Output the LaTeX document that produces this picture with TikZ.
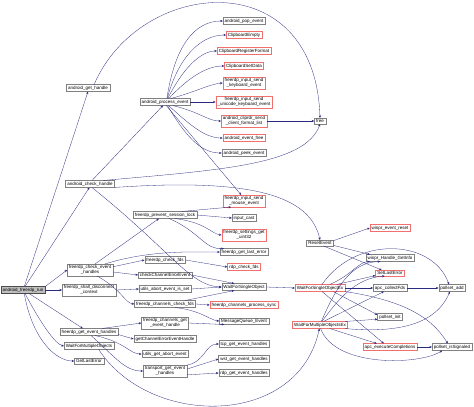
\documentclass[tikz,border=0pt]{standalone}
\usepackage{fontspec}
\setmainfont{Liberation Sans}
\usetikzlibrary{arrows.meta}
\definecolor{edgecol}{HTML}{2A2A80}
\definecolor{ndgray}{HTML}{808080}
\definecolor{ndred}{HTML}{F07070}
\definecolor{rootfill}{HTML}{BFBFBF}
\tikzset{
  nd/.style={draw=ndgray, rectangle, inner xsep=1.8pt, inner ysep=1.3pt, font=\fontsize{4.5}{5}\selectfont, align=center, fill=white, line width=0.3pt},
  rn/.style={nd, draw=ndred},
  rootnd/.style={nd, fill=rootfill, draw=black!70},
  ed/.style={draw=edgecol, line width=0.3pt, -{Stealth[length=2.6pt,width=2.2pt]}}
}
\begin{document}
\begin{tikzpicture}[x=1pt,y=-1pt]
\useasboundingbox (0,0) rectangle (474,407);
\fill[white] (0,0) rectangle (474,407);
% rank 0
\node[rootnd] (root) at (23,290) {android\_freerdp\_run};
% rank 1
\node[nd] (gh) at (88,88) {android\_get\_handle};
\node[nd] (ch) at (90,184) {android\_check\_handle};
\node[nd] (ceh) at (90,270) {freerdp\_check\_event\\\_handles};
\node[nd] (sdc) at (89,290) {freerdp\_shall\_disconnect\\\_context};
\node[nd] (geh) at (89,332) {freerdp\_get\_event\_handles};
\node[nd] (wfmo) at (89,346) {WaitForMultipleObjects};
\node[nd] (gle) at (89,361) {GetLastError};
% rank 2
\node[nd] (pe) at (165,102) {android\_process\_event};
\node[nd] (psl) at (165,215) {freerdp\_prevent\_session\_lock};
\node[nd] (cfds) at (165,260) {freerdp\_check\_fds};
\node[nd] (ccee) at (165,275) {checkChannelErrorEvent};
\node[nd] (uaeis) at (165,289) {utils\_abort\_event\_is\_set};
\node[nd] (chcf) at (165,304) {freerdp\_channels\_check\_fds};
\node[nd] (chge) at (165,323) {freerdp\_channels\_get\\\_event\_handle};
\node[nd] (gceeh) at (165,339) {getChannelErrorEventHandle};
\node[nd] (ugae) at (165,354) {utils\_get\_abort\_event};
\node[nd] (tgeh) at (165,371) {transport\_get\_event\\\_handles};
% rank 3
\node[nd] (pop) at (244,21) {android\_pop\_event};
\node[rn] (cbe) at (244,35) {ClipboardEmpty};
\node[rn] (cbrf) at (244,51) {ClipboardRegisterFormat};
\node[rn] (cbsd) at (244,66) {ClipboardSetData};
\node[rn] (isk) at (244,83) {freerdp\_input\_send\\\_keyboard\_event};
\node[rn] (isu) at (244,102) {freerdp\_input\_send\\\_unicode\_keyboard\_event};
\node[rn] (cfl) at (244,121) {android\_cliprdr\_send\\\_client\_format\_list};
\node[rn] (ef) at (244,138) {android\_event\_free};
\node[nd] (peek) at (244,153) {android\_peek\_event};
\node[rn] (ism) at (244,201) {freerdp\_input\_send\\\_mouse\_event};
\node[nd] (ic) at (244,218) {input\_cast};
\node[rn] (sgu) at (244,235) {freerdp\_settings\_get\\\_uint32};
\node[nd] (gle2) at (244,252) {freerdp\_get\_last\_error};
\node[rn] (rcf) at (244,267) {rdp\_check\_fds};
\node[nd] (wfso) at (244,287) {WaitForSingleObject};
\node[rn] (cps) at (244,305) {freerdp\_channels\_process\_sync};
\node[nd] (mqe) at (244,321) {MessageQueue\_Event};
\node[nd] (tcp) at (244,344) {tcp\_get\_event\_handles};
\node[nd] (wst) at (244,359) {wst\_get\_event\_handles};
\node[nd] (rdp) at (244,373) {rdp\_get\_event\_handles};
% rank 4
\node[nd] (free) at (320,121) {free};
\node[nd] (re) at (320,243) {ResetEvent};
\node[rn] (wfsoex) at (320,288) {WaitForSingleObjectEx};
\node[rn] (wfmoex) at (320,325) {WaitForMultipleObjectsEx};
% rank 5
\node[rn] (wer) at (390,228) {winpr\_event\_reset};
\node[nd] (hgi) at (390,258) {winpr\_Handle\_GetInfo};
\node[rn] (sle) at (390,273) {SetLastError};
\node[nd] (acf) at (390,288) {apc\_collectFds};
\node[nd] (pi) at (390,317) {pollset\_init};
\node[rn] (aec) at (390,347) {apc\_executeCompletions};
% rank 6
\node[nd] (pa) at (452,288) {pollset\_add};
\node[nd] (pis) at (452,347) {pollset\_isSignaled};

% root edges
\draw[ed] (root.70) -- (gh.south);
\draw[ed] (root.60) -- (ch.-100);
\draw[ed] (root.north east) -- (ceh.west);
\draw[ed] (root.east) -- (sdc.west);
\draw[ed] (root.-30) -- (geh.150);
\draw[ed] (root.-60) .. controls (40,322) and (55,344) .. (wfmo.west);
\draw[ed] (root.-70) .. controls (32,338) and (55,361) .. (gle.west);
% android_get_handle
\draw[ed] (gh.30) .. controls (140,-22) and (315,-38) .. (free.north);
% android_check_handle
\draw[ed] (ch.60) -- (pe.-120);
\draw[ed] (ch.15) .. controls (220,170) and (305,165) .. (free.south);
\draw[ed] (ch.-8) .. controls (250,178) and (310,195) .. (re.north);
\draw[ed] (ch.-60) .. controls (170,250) and (190,286) .. (wfso.west);
% freerdp_check_event_handles
\draw[ed] (ceh.50) -- (psl.-150);
\draw[ed] (ceh.22) .. controls (150,250) and (190,252) .. (gle2.west);
\draw[ed] (ceh.8) -- (cfds.west);
\draw[ed] (ceh.-5) -- (ccee.west);
\draw[ed] (ceh.-40) .. controls (122,290) and (125,303) .. (chcf.west);
% shall disconnect
\draw[ed] (sdc.east) -- (uaeis.west);
% get event handles
\draw[ed] (geh.15) -- (chge.west);
\draw[ed] (geh.-5) -- (gceeh.west);
\draw[ed] (geh.-30) .. controls (125,342) and (130,354) .. (ugae.west);
\draw[ed] (geh.-60) .. controls (115,357) and (125,371) .. (tgeh.west);
% WaitForMultipleObjects
\draw[ed] (wfmo.-20) .. controls (150,428) and (298,428) .. (wfmoex.-100);
% android_process_event fanout
\draw[ed] (pe.62) .. controls (175,45) and (195,21) .. (pop.west);
\draw[ed] (pe.58) .. controls (178,58) and (200,35) .. (cbe.west);
\draw[ed] (pe.52) .. controls (182,70) and (200,51) .. (cbrf.west);
\draw[ed] (pe.42) .. controls (186,80) and (205,66) .. (cbsd.west);
\draw[ed] (pe.30) .. controls (195,92) and (210,84) .. (isk.west);
\draw[ed] (pe.east) -- (isu.west);
\draw[ed] (pe.-25) .. controls (200,112) and (208,121) .. (cfl.west);
\draw[ed] (pe.-45) .. controls (190,125) and (205,138) .. (ef.west);
\draw[ed] (pe.-55) .. controls (185,135) and (200,153) .. (peek.west);
\draw[ed] (pe.-70) -- (ism.115);
\draw[ed] (cfl.east) -- (free.west);
% prevent session lock
\draw[ed] (psl.12) -- (ism.205);
\draw[ed] (psl.east) -- (ic.west);
\draw[ed] (psl.-20) .. controls (205,222) and (212,234) .. (sgu.west);
\draw[ed] (psl.-40) .. controls (200,232) and (205,250) .. (gle2.170);
% misc rank 2
\draw[ed] (cfds.east) -- (rcf.west);
\draw[ed] (ccee.east) -- (wfso.160);
\draw[ed] (uaeis.east) -- (wfso.west);
\draw[ed] (chcf.10) -- (wfso.-160);
\draw[ed] (chcf.east) -- (cps.west);
\draw[ed] (chcf.-20) .. controls (200,310) and (210,320) .. (mqe.west);
\draw[ed] (chge.east) -- (mqe.-170);
\draw[ed] (tgeh.15) .. controls (205,362) and (205,344) .. (tcp.west);
\draw[ed] (tgeh.5) -- (wst.west);
\draw[ed] (tgeh.-10) -- (rdp.west);
% rank 3 -> 4
\draw[ed] (wfso.east) -- (wfsoex.west);
% ResetEvent
\draw[ed] (re.10) -- (wer.west);
\draw[ed] (re.-10) -- (hgi.170);
\draw[ed] (re.-40) -- (sle.160);
% WaitForSingleObjectEx
\draw[ed] (wfsoex.20) .. controls (352,275) and (358,262) .. (hgi.-170);
\draw[ed] (wfsoex.12) -- (sle.-170);
\draw[ed] (wfsoex.east) -- (acf.west);
\draw[ed] (wfsoex.-15) -- (pi.170);
\draw[ed] (wfsoex.-60) -- (aec.150);
\draw[ed] (wfsoex.-8) .. controls (400,300) and (430,315) .. (pis.140);
\draw[ed] (wfsoex.60) .. controls (355,236) and (432,238) .. (pa.130);
% WaitForMultipleObjectsEx
\draw[ed] (wfmoex.70) .. controls (335,290) and (350,262) .. (hgi.-160);
\draw[ed] (wfmoex.62) .. controls (338,300) and (355,278) .. (sle.-150);
\draw[ed] (wfmoex.45) -- (acf.-150);
\draw[ed] (wfmoex.8) -- (pi.-170);
\draw[ed] (wfmoex.-20) -- (aec.165);
\draw[ed] (wfmoex.-80) .. controls (335,368) and (420,365) .. (pis.-160);
\draw[ed] (wfmoex.-8) .. controls (415,335) and (440,315) .. (pa.-120);
% rank 5 -> 6
\draw[ed] (acf.east) -- (pa.west);
\draw[ed] (aec.east) -- (pis.west);
\end{tikzpicture}
\end{document}
